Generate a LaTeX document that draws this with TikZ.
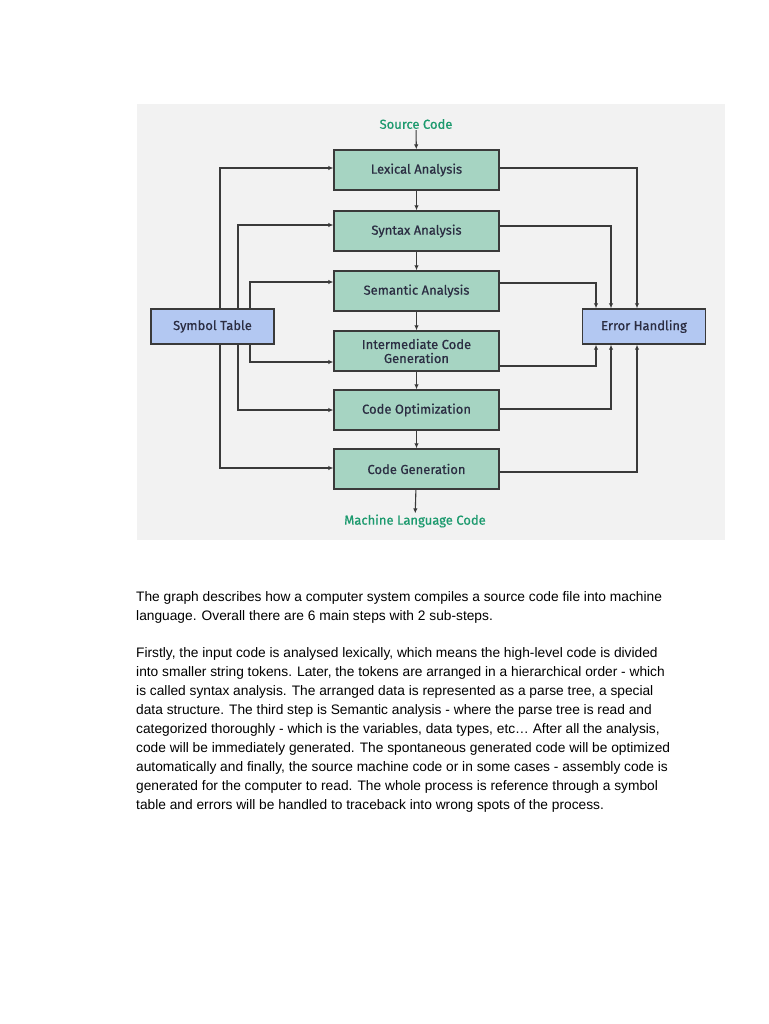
\documentclass[tikz,border=0pt]{standalone}
\usepackage{fontspec}
\setmainfont{Liberation Sans}
\newfontfamily\diagfont[FakeBold=0.6]{Fira Sans}
\usetikzlibrary{arrows.meta}
\definecolor{stagefill}{HTML}{A6D4C2}
\definecolor{sidefill}{HTML}{B3C8F2}
\definecolor{edgegray}{HTML}{3A3A3A}
\definecolor{taggreen}{HTML}{1C9A6E}
\definecolor{panelgray}{HTML}{F2F2F2}
\definecolor{inkdark}{HTML}{2B2D42}

\begin{document}
\begin{tikzpicture}[x=1pt, y=-1pt,
  stage/.style = {draw=edgegray, line width=1.4pt, fill=stagefill,
    minimum width=165pt, minimum height=40pt, inner sep=0pt, align=center,
    text=inkdark, font=\diagfont\fontsize{13}{14}\selectfont},
  side/.style = {stage, fill=sidefill, minimum width=123pt, minimum height=35pt},
  tag/.style = {text=taggreen, inner sep=1pt, font=\diagfont\fontsize{13}{14}\selectfont},
  link/.style = {draw=edgegray, line width=1.1pt, -{Latex[length=5pt,width=4.5pt]}},
  note/.style = {align=left, inner sep=0pt, text=black,
    font=\fontsize{13.75}{18.9}\selectfont}]
  \useasboundingbox[fill=white] (0,0) rectangle (768,1024);
  \fill[panelgray] (137,104) rectangle (725,540);

  % main chain
  \node[tag] (src) at (416,124) {Source Code};
  \node[stage] (lex) at (416.5,170) {Lexical Analysis};
  \node[stage] (syn) at (416.5,231) {Syntax Analysis};
  \node[stage] (sem) at (416.5,291) {Semantic Analysis};
  \node[stage] (icg) at (416.5,351) {Intermediate Code\\Generation};
  \node[stage] (opt) at (416.5,410) {Code Optimization};
  \node[stage] (gen) at (416.5,469) {Code Generation};
  \node[tag] (mlc) at (415,521) {Machine Language Code};

  % side boxes
  \node[side] (sym) at (212.5,326.5) {Symbol Table};
  \node[side] (err) at (644,326.5) {Error Handling};

  \foreach \a/\b in {src/lex, lex/syn, syn/sem, sem/icg, icg/opt, opt/gen, gen/mlc}
    \draw[link] (\a) -- (\b);

  % symbol table feeds every stage
  \foreach \n/\dx/\dy in {lex/7.5/2, syn/25.5/6, sem/37.5/9}
    \draw[link] ([xshift=\dx pt]sym.north) |- ([yshift=\dy pt]\n.west);
  \foreach \n/\dx/\dy in {icg/37.5/-11, opt/25.5/0, gen/7.5/1}
    \draw[link] ([xshift=\dx pt]sym.south) |- ([yshift=\dy pt]\n.west);

  % every stage reports to error handling
  \foreach \n/\dx/\dy in {lex/-7/2, syn/-33/5, sem/-48/8}
    \draw[link] ([yshift=\dy pt]\n.east) -| ([xshift=\dx pt]err.north);
  \foreach \n/\dx/\dy in {icg/-48/-15, opt/-33/1, gen/-7/-3}
    \draw[link] ([yshift=\dy pt]\n.east) -| ([xshift=\dx pt]err.south);

  % text under the chart
  \node[note, anchor=north west] (desc) at (136,591) {%
    The graph describes how a computer system compiles a source code file into machine\\
    language. Overall there are 6 main steps with 2 sub-steps.\\[18.9pt]
    Firstly, the input code is analysed lexically, which means the high-level code is divided\\
    into smaller string tokens. Later, the tokens are arranged in a hierarchical order - which\\
    is called syntax analysis. The arranged data is represented as a parse tree, a special\\
    data structure. The third step is Semantic analysis - where the parse tree is read and\\
    categorized thoroughly - which is the variables, data types, etc… After all the analysis,\\
    code will be immediately generated. The spontaneous generated code will be optimized\\
    automatically and finally, the source machine code or in some cases - assembly code is\\
    generated for the computer to read. The whole process is reference through a symbol\\
    table and errors will be handled to traceback into wrong spots of the process.};
\end{tikzpicture}
\end{document}
